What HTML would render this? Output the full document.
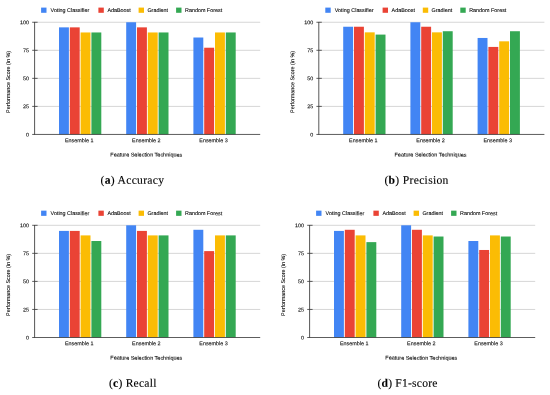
<!DOCTYPE html>
<html lang="en">
<head>
<meta charset="utf-8">
<title>Ensemble performance charts</title>
<style>
html,body{margin:0;padding:0;background:#fff;}
body{width:550px;height:395px;overflow:hidden;}
svg{display:block;}
.s{font-family:"Liberation Sans",Arial,sans-serif;font-size:5.4px;fill:#000;stroke:#000;stroke-width:0.08px;text-rendering:geometricPrecision;}
.y{stroke-width:0.08px;}
.c{font-family:"Liberation Serif","Times New Roman",serif;font-size:11.6px;fill:#000;stroke:#000;stroke-width:0.12px;text-rendering:geometricPrecision;}
.c .b{font-weight:bold;}
</style>
</head>
<body>
<svg width="550" height="395" viewBox="0 0 550 395">
<rect x="0" y="0" width="550" height="395" fill="#fff"/>

<g transform="translate(0,0)">
<rect x="41.1" y="7.6" width="5.4" height="5.2" fill="#4285f4"/>
<text class="s" transform="translate(50.6,12.05) rotate(0.05)">Voting Classifier</text>
<rect x="98.4" y="7.6" width="5.4" height="5.2" fill="#ea4335"/>
<text class="s" transform="translate(107.4,12.05) rotate(0.05)">AdaBoost</text>
<rect x="138.6" y="7.6" width="5.4" height="5.2" fill="#fbbc04"/>
<text class="s" transform="translate(147.4,12.05) rotate(0.05)">Gradient</text>
<rect x="176.1" y="7.6" width="5.4" height="5.2" fill="#34a853"/>
<text class="s" transform="translate(185,12.05) rotate(0.05)">Random Forest</text>
<line x1="34.6" y1="22.25" x2="260.2" y2="22.25" stroke="#acacac" stroke-width="0.5"/>
<line x1="34.6" y1="50.3" x2="260.2" y2="50.3" stroke="#acacac" stroke-width="0.5"/>
<line x1="34.6" y1="78.35" x2="260.2" y2="78.35" stroke="#acacac" stroke-width="0.5"/>
<line x1="34.6" y1="106.4" x2="260.2" y2="106.4" stroke="#acacac" stroke-width="0.5"/>
<rect x="59" y="27.36" width="9.9" height="107.09" fill="#4285f4"/>
<rect x="69.8" y="27.36" width="9.9" height="107.09" fill="#ea4335"/>
<rect x="80.6" y="32.46" width="9.9" height="101.99" fill="#fbbc04"/>
<rect x="91.4" y="32.46" width="9.9" height="101.99" fill="#34a853"/>
<rect x="126.2" y="22.25" width="9.9" height="112.2" fill="#4285f4"/>
<rect x="137" y="27.36" width="9.9" height="107.09" fill="#ea4335"/>
<rect x="147.8" y="32.46" width="9.9" height="101.99" fill="#fbbc04"/>
<rect x="158.6" y="32.46" width="9.9" height="101.99" fill="#34a853"/>
<rect x="193.4" y="37.51" width="9.9" height="96.94" fill="#4285f4"/>
<rect x="204.2" y="47.72" width="9.9" height="86.73" fill="#ea4335"/>
<rect x="215" y="32.46" width="9.9" height="101.99" fill="#fbbc04"/>
<rect x="225.8" y="32.46" width="9.9" height="101.99" fill="#34a853"/>
<line x1="34.6" y1="21.95" x2="34.6" y2="134.75" stroke="#383838" stroke-width="0.85"/>
<line x1="32.2" y1="134.45" x2="260.2" y2="134.45" stroke="#383838" stroke-width="0.82"/>
<line x1="32.2" y1="22.25" x2="37.6" y2="22.25" stroke="#383838" stroke-width="0.8"/>
<line x1="32.2" y1="50.3" x2="37.6" y2="50.3" stroke="#383838" stroke-width="0.8"/>
<line x1="32.2" y1="78.35" x2="37.6" y2="78.35" stroke="#383838" stroke-width="0.8"/>
<line x1="32.2" y1="106.4" x2="37.6" y2="106.4" stroke="#383838" stroke-width="0.8"/>
<text class="s" text-anchor="end" transform="translate(29.1,24.2) rotate(0.05)">100</text>
<text class="s" text-anchor="end" transform="translate(29.1,52.25) rotate(0.05)">75</text>
<text class="s" text-anchor="end" transform="translate(29.1,80.3) rotate(0.05)">50</text>
<text class="s" text-anchor="end" transform="translate(29.1,108.35) rotate(0.05)">25</text>
<text class="s" text-anchor="end" transform="translate(29.1,136.4) rotate(0.05)">0</text>
<text class="s" text-anchor="middle" transform="translate(79.15,142.3) rotate(0.05)">Ensemble 1</text>
<text class="s" text-anchor="middle" transform="translate(146.35,142.3) rotate(0.05)">Ensemble 2</text>
<text class="s" text-anchor="middle" transform="translate(213.55,142.3) rotate(0.05)">Ensemble 3</text>
<text class="s" style="font-size:5.48px" text-anchor="middle" transform="translate(146.3,156.6) rotate(0.05)">Feature Selection Techniques</text>
<text class="s y" text-anchor="middle" transform="translate(10.1,81.9) rotate(-89.95)">Performance Score (in %)</text>
</g>
<text class="c" transform="translate(100.6,183.7) rotate(0.05)" textLength="63.4" lengthAdjust="spacing">(<tspan class="b">a</tspan>) Accuracy</text>
<g transform="translate(284.2,0)">
<rect x="41.1" y="7.6" width="5.4" height="5.2" fill="#4285f4"/>
<text class="s" transform="translate(50.6,12.05) rotate(0.05)">Voting Classifier</text>
<rect x="98.4" y="7.6" width="5.4" height="5.2" fill="#ea4335"/>
<text class="s" transform="translate(107.4,12.05) rotate(0.05)">AdaBoost</text>
<rect x="138.6" y="7.6" width="5.4" height="5.2" fill="#fbbc04"/>
<text class="s" transform="translate(147.4,12.05) rotate(0.05)">Gradient</text>
<rect x="176.1" y="7.6" width="5.4" height="5.2" fill="#34a853"/>
<text class="s" transform="translate(185,12.05) rotate(0.05)">Random Forest</text>
<line x1="34.6" y1="22.25" x2="260.2" y2="22.25" stroke="#acacac" stroke-width="0.5"/>
<line x1="34.6" y1="50.3" x2="260.2" y2="50.3" stroke="#acacac" stroke-width="0.5"/>
<line x1="34.6" y1="78.35" x2="260.2" y2="78.35" stroke="#acacac" stroke-width="0.5"/>
<line x1="34.6" y1="106.4" x2="260.2" y2="106.4" stroke="#acacac" stroke-width="0.5"/>
<rect x="59" y="26.74" width="9.9" height="107.71" fill="#4285f4"/>
<rect x="69.8" y="26.74" width="9.9" height="107.71" fill="#ea4335"/>
<rect x="80.6" y="32.35" width="9.9" height="102.1" fill="#fbbc04"/>
<rect x="91.4" y="34.59" width="9.9" height="99.86" fill="#34a853"/>
<rect x="126.2" y="22.25" width="9.9" height="112.2" fill="#4285f4"/>
<rect x="137" y="26.74" width="9.9" height="107.71" fill="#ea4335"/>
<rect x="147.8" y="32.35" width="9.9" height="102.1" fill="#fbbc04"/>
<rect x="158.6" y="31.23" width="9.9" height="103.22" fill="#34a853"/>
<rect x="193.4" y="37.96" width="9.9" height="96.49" fill="#4285f4"/>
<rect x="204.2" y="46.93" width="9.9" height="87.52" fill="#ea4335"/>
<rect x="215" y="41.32" width="9.9" height="93.13" fill="#fbbc04"/>
<rect x="225.8" y="31.23" width="9.9" height="103.22" fill="#34a853"/>
<line x1="34.6" y1="21.95" x2="34.6" y2="134.75" stroke="#383838" stroke-width="0.85"/>
<line x1="32.2" y1="134.45" x2="260.2" y2="134.45" stroke="#383838" stroke-width="0.82"/>
<line x1="32.2" y1="22.25" x2="37.6" y2="22.25" stroke="#383838" stroke-width="0.8"/>
<line x1="32.2" y1="50.3" x2="37.6" y2="50.3" stroke="#383838" stroke-width="0.8"/>
<line x1="32.2" y1="78.35" x2="37.6" y2="78.35" stroke="#383838" stroke-width="0.8"/>
<line x1="32.2" y1="106.4" x2="37.6" y2="106.4" stroke="#383838" stroke-width="0.8"/>
<text class="s" text-anchor="end" transform="translate(29.1,24.2) rotate(0.05)">100</text>
<text class="s" text-anchor="end" transform="translate(29.1,52.25) rotate(0.05)">75</text>
<text class="s" text-anchor="end" transform="translate(29.1,80.3) rotate(0.05)">50</text>
<text class="s" text-anchor="end" transform="translate(29.1,108.35) rotate(0.05)">25</text>
<text class="s" text-anchor="end" transform="translate(29.1,136.4) rotate(0.05)">0</text>
<text class="s" text-anchor="middle" transform="translate(79.15,142.3) rotate(0.05)">Ensemble 1</text>
<text class="s" text-anchor="middle" transform="translate(146.35,142.3) rotate(0.05)">Ensemble 2</text>
<text class="s" text-anchor="middle" transform="translate(213.55,142.3) rotate(0.05)">Ensemble 3</text>
<text class="s" style="font-size:5.48px" text-anchor="middle" transform="translate(146.3,156.6) rotate(0.05)">Feature Selection Techniques</text>
<text class="s y" text-anchor="middle" transform="translate(10.1,81.9) rotate(-89.95)">Performance Score (in %)</text>
</g>
<text class="c" transform="translate(384.4,183.7) rotate(0.05)" textLength="64" lengthAdjust="spacing">(<tspan class="b">b</tspan>) Precision</text>
<g transform="translate(0,203.05)">
<rect x="41.1" y="7.6" width="5.4" height="5.2" fill="#4285f4"/>
<text class="s" transform="translate(50.6,12.05) rotate(0.05)">Voting Classifier</text>
<rect x="98.4" y="7.6" width="5.4" height="5.2" fill="#ea4335"/>
<text class="s" transform="translate(107.4,12.05) rotate(0.05)">AdaBoost</text>
<rect x="138.6" y="7.6" width="5.4" height="5.2" fill="#fbbc04"/>
<text class="s" transform="translate(147.4,12.05) rotate(0.05)">Gradient</text>
<rect x="176.1" y="7.6" width="5.4" height="5.2" fill="#34a853"/>
<text class="s" transform="translate(185,12.05) rotate(0.05)">Random Forest</text>
<line x1="34.6" y1="22.25" x2="260.2" y2="22.25" stroke="#acacac" stroke-width="0.5"/>
<line x1="34.6" y1="50.3" x2="260.2" y2="50.3" stroke="#acacac" stroke-width="0.5"/>
<line x1="34.6" y1="78.35" x2="260.2" y2="78.35" stroke="#acacac" stroke-width="0.5"/>
<line x1="34.6" y1="106.4" x2="260.2" y2="106.4" stroke="#acacac" stroke-width="0.5"/>
<rect x="59" y="27.86" width="9.9" height="106.59" fill="#4285f4"/>
<rect x="69.8" y="27.86" width="9.9" height="106.59" fill="#ea4335"/>
<rect x="80.6" y="32.35" width="9.9" height="102.1" fill="#fbbc04"/>
<rect x="91.4" y="37.96" width="9.9" height="96.49" fill="#34a853"/>
<rect x="126.2" y="22.25" width="9.9" height="112.2" fill="#4285f4"/>
<rect x="137" y="27.86" width="9.9" height="106.59" fill="#ea4335"/>
<rect x="147.8" y="32.35" width="9.9" height="102.1" fill="#fbbc04"/>
<rect x="158.6" y="32.35" width="9.9" height="102.1" fill="#34a853"/>
<rect x="193.4" y="26.74" width="9.9" height="107.71" fill="#4285f4"/>
<rect x="204.2" y="48.06" width="9.9" height="86.39" fill="#ea4335"/>
<rect x="215" y="32.35" width="9.9" height="102.1" fill="#fbbc04"/>
<rect x="225.8" y="32.35" width="9.9" height="102.1" fill="#34a853"/>
<line x1="34.6" y1="21.95" x2="34.6" y2="134.75" stroke="#383838" stroke-width="0.85"/>
<line x1="32.2" y1="134.45" x2="260.2" y2="134.45" stroke="#383838" stroke-width="0.82"/>
<line x1="32.2" y1="22.25" x2="37.6" y2="22.25" stroke="#383838" stroke-width="0.8"/>
<line x1="32.2" y1="50.3" x2="37.6" y2="50.3" stroke="#383838" stroke-width="0.8"/>
<line x1="32.2" y1="78.35" x2="37.6" y2="78.35" stroke="#383838" stroke-width="0.8"/>
<line x1="32.2" y1="106.4" x2="37.6" y2="106.4" stroke="#383838" stroke-width="0.8"/>
<text class="s" text-anchor="end" transform="translate(29.1,24.2) rotate(0.05)">100</text>
<text class="s" text-anchor="end" transform="translate(29.1,52.25) rotate(0.05)">75</text>
<text class="s" text-anchor="end" transform="translate(29.1,80.3) rotate(0.05)">50</text>
<text class="s" text-anchor="end" transform="translate(29.1,108.35) rotate(0.05)">25</text>
<text class="s" text-anchor="end" transform="translate(29.1,136.4) rotate(0.05)">0</text>
<text class="s" text-anchor="middle" transform="translate(79.15,142.3) rotate(0.05)">Ensemble 1</text>
<text class="s" text-anchor="middle" transform="translate(146.35,142.3) rotate(0.05)">Ensemble 2</text>
<text class="s" text-anchor="middle" transform="translate(213.55,142.3) rotate(0.05)">Ensemble 3</text>
<text class="s" style="font-size:5.48px" text-anchor="middle" transform="translate(146.3,156.6) rotate(0.05)">Feature Selection Techniques</text>
<text class="s y" text-anchor="middle" transform="translate(10.1,81.9) rotate(-89.95)">Performance Score (in %)</text>
</g>
<text class="c" transform="translate(109,386.75) rotate(0.05)" textLength="47.4" lengthAdjust="spacing">(<tspan class="b">c</tspan>) Recall</text>
<g transform="translate(275,203.05)">
<rect x="41.1" y="7.6" width="5.4" height="5.2" fill="#4285f4"/>
<text class="s" transform="translate(50.6,12.05) rotate(0.05)">Voting Classifier</text>
<rect x="98.4" y="7.6" width="5.4" height="5.2" fill="#ea4335"/>
<text class="s" transform="translate(107.4,12.05) rotate(0.05)">AdaBoost</text>
<rect x="138.6" y="7.6" width="5.4" height="5.2" fill="#fbbc04"/>
<text class="s" transform="translate(147.4,12.05) rotate(0.05)">Gradient</text>
<rect x="176.1" y="7.6" width="5.4" height="5.2" fill="#34a853"/>
<text class="s" transform="translate(185,12.05) rotate(0.05)">Random Forest</text>
<line x1="34.6" y1="22.25" x2="260.2" y2="22.25" stroke="#acacac" stroke-width="0.5"/>
<line x1="34.6" y1="50.3" x2="260.2" y2="50.3" stroke="#acacac" stroke-width="0.5"/>
<line x1="34.6" y1="78.35" x2="260.2" y2="78.35" stroke="#acacac" stroke-width="0.5"/>
<line x1="34.6" y1="106.4" x2="260.2" y2="106.4" stroke="#acacac" stroke-width="0.5"/>
<rect x="59" y="27.86" width="9.9" height="106.59" fill="#4285f4"/>
<rect x="69.8" y="26.74" width="9.9" height="107.71" fill="#ea4335"/>
<rect x="80.6" y="32.35" width="9.9" height="102.1" fill="#fbbc04"/>
<rect x="91.4" y="39.08" width="9.9" height="95.37" fill="#34a853"/>
<rect x="126.2" y="22.25" width="9.9" height="112.2" fill="#4285f4"/>
<rect x="137" y="26.74" width="9.9" height="107.71" fill="#ea4335"/>
<rect x="147.8" y="32.35" width="9.9" height="102.1" fill="#fbbc04"/>
<rect x="158.6" y="33.47" width="9.9" height="100.98" fill="#34a853"/>
<rect x="193.4" y="37.96" width="9.9" height="96.49" fill="#4285f4"/>
<rect x="204.2" y="46.93" width="9.9" height="87.52" fill="#ea4335"/>
<rect x="215" y="32.35" width="9.9" height="102.1" fill="#fbbc04"/>
<rect x="225.8" y="33.47" width="9.9" height="100.98" fill="#34a853"/>
<line x1="34.6" y1="21.95" x2="34.6" y2="134.75" stroke="#383838" stroke-width="0.85"/>
<line x1="32.2" y1="134.45" x2="260.2" y2="134.45" stroke="#383838" stroke-width="0.82"/>
<line x1="32.2" y1="22.25" x2="37.6" y2="22.25" stroke="#383838" stroke-width="0.8"/>
<line x1="32.2" y1="50.3" x2="37.6" y2="50.3" stroke="#383838" stroke-width="0.8"/>
<line x1="32.2" y1="78.35" x2="37.6" y2="78.35" stroke="#383838" stroke-width="0.8"/>
<line x1="32.2" y1="106.4" x2="37.6" y2="106.4" stroke="#383838" stroke-width="0.8"/>
<text class="s" text-anchor="end" transform="translate(29.1,24.2) rotate(0.05)">100</text>
<text class="s" text-anchor="end" transform="translate(29.1,52.25) rotate(0.05)">75</text>
<text class="s" text-anchor="end" transform="translate(29.1,80.3) rotate(0.05)">50</text>
<text class="s" text-anchor="end" transform="translate(29.1,108.35) rotate(0.05)">25</text>
<text class="s" text-anchor="end" transform="translate(29.1,136.4) rotate(0.05)">0</text>
<text class="s" text-anchor="middle" transform="translate(79.15,142.3) rotate(0.05)">Ensemble 1</text>
<text class="s" text-anchor="middle" transform="translate(146.35,142.3) rotate(0.05)">Ensemble 2</text>
<text class="s" text-anchor="middle" transform="translate(213.55,142.3) rotate(0.05)">Ensemble 3</text>
<text class="s" style="font-size:5.48px" text-anchor="middle" transform="translate(146.3,156.6) rotate(0.05)">Feature Selection Techniques</text>
<text class="s y" text-anchor="middle" transform="translate(10.1,81.9) rotate(-89.95)">Performance Score (in %)</text>
</g>
<text class="c" transform="translate(377.4,386.75) rotate(0.05)" textLength="60" lengthAdjust="spacing">(<tspan class="b">d</tspan>) F1-score</text>
</svg>
</body>
</html>
